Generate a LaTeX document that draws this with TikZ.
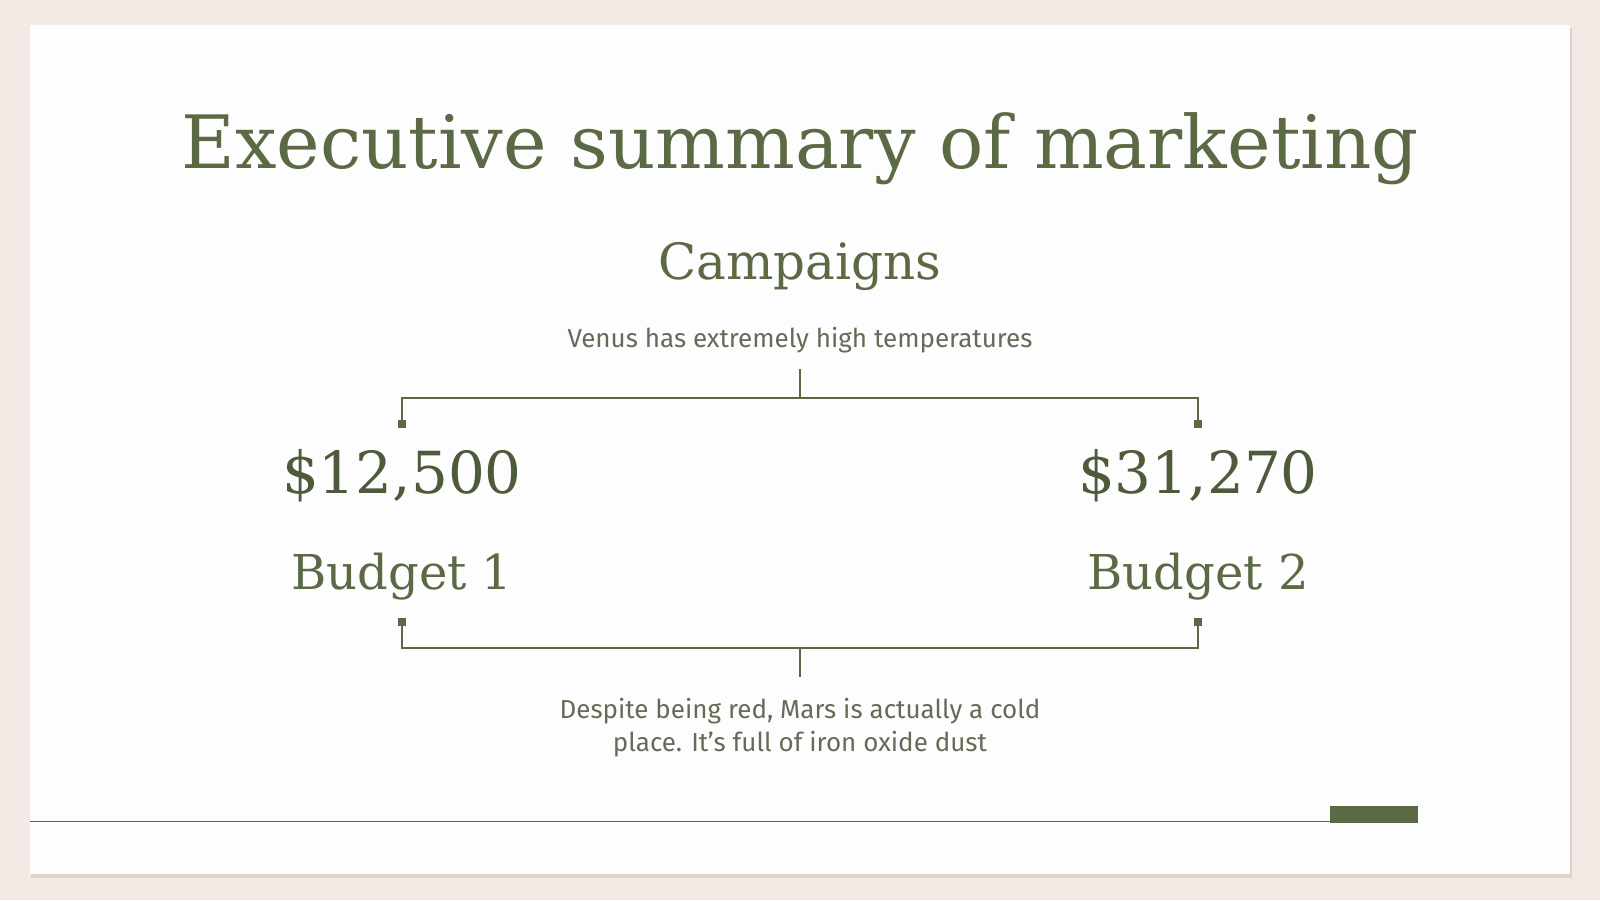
\documentclass[tikz,border=0pt]{standalone}
\usepackage{fontspec}
\setmainfont{DejaVu Serif}
\newfontfamily\bodyfont{Fira Sans}
\definecolor{pagebg}{HTML}{F3EAE5}
\definecolor{cardbg}{HTML}{FDFDFD}
\definecolor{cardshadow}{HTML}{D9D4CE}
\definecolor{headgreen}{HTML}{5B6A45}
\definecolor{textgreen}{HTML}{646C58}
\tikzset{
  titletext/.style={anchor=base, inner sep=0pt, text=headgreen, font=\fontsize{73.6}{80}\selectfont},
  subtitle/.style={anchor=base, inner sep=0pt, text=headgreen, font=\fontsize{50}{56}\selectfont},
  amount/.style={anchor=base, inner sep=0pt, text=headgreen!85!black, font=\fontsize{58}{66}\selectfont},
  budget/.style={anchor=base, inner sep=0pt, text=headgreen, font=\fontsize{48}{56}\selectfont},
  note/.style={anchor=base, inner sep=0pt, text=textgreen, font=\bodyfont\fontsize{26}{32.5}\selectfont, align=center},
  link/.style={draw=headgreen, line width=2pt},
  endsq/.style={fill=headgreen, minimum size=8pt, inner sep=0pt, draw=none},
}
\begin{document}
\begin{tikzpicture}[x=1pt,y=-1pt]
\useasboundingbox (0,0) rectangle (1600,900);
\fill[pagebg] (0,0) rectangle (1600,900);
\fill[cardshadow] (31,28) rectangle (1572,878);
\fill[cardbg] (30,25) rectangle (1570,874);

\node[titletext] (title) at (800,168) {Executive summary of marketing};
\node[subtitle] (camp) at (800,279) {Campaigns};
\node[note] (venus) at (800,347) {Venus has extremely high temperatures};

\coordinate (topstub) at (800,369);
\coordinate (topjoin) at (800,398);
\coordinate (tl) at (402,398);
\coordinate (tr) at (1198,398);
\node[endsq] (sqtl) at (402,424) {};
\node[endsq] (sqtr) at (1198,424) {};
\draw[link] (topstub) -- (topjoin);
\draw[link] (sqtl.center) -- (tl) -- (tr) -- (sqtr.center);

\node[amount] (a1) at (402,493) {\$12,500};
\node[amount] (a2) at (1198,493) {\$31,270};
\node[budget] (b1) at (402,589) {Budget 1};
\node[budget] (b2) at (1198,589) {Budget 2};

\node[endsq] (sqbl) at (402,622) {};
\node[endsq] (sqbr) at (1198,622) {};
\coordinate (bl) at (402,648);
\coordinate (br) at (1198,648);
\coordinate (botjoin) at (800,648);
\coordinate (botstub) at (800,677);
\draw[link] (sqbl.center) -- (bl) -- (br) -- (sqbr.center);
\draw[link] (botjoin) -- (botstub);

\node[note] (mars) at (800,751) {Despite being red, Mars is actually a cold\\place. It’s full of iron oxide dust};

\coordinate (lineL) at (30,821.5);
\node[fill=headgreen, minimum width=88pt, minimum height=17pt, inner sep=0pt, anchor=west] (bar) at (1330,814.5) {};
\draw[draw=headgreen, line width=1.6pt] (lineL) -- (bar.west |- lineL);
\end{tikzpicture}
\end{document}
